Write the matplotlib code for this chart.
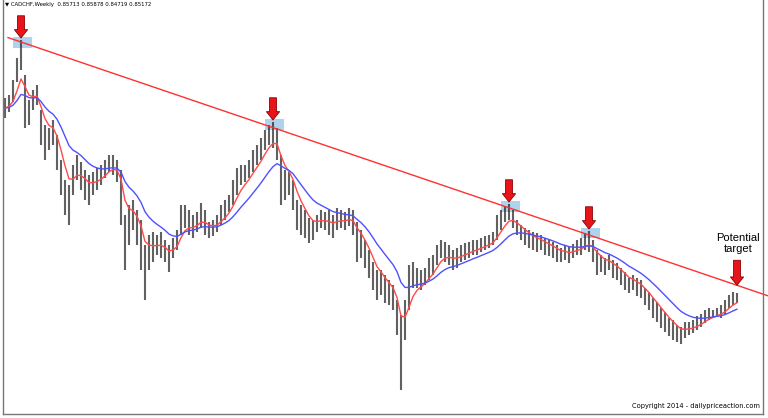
import numpy as np
import pandas as pd
import matplotlib
matplotlib.use('Agg')
import matplotlib.pyplot as plt
from matplotlib.patches import Rectangle

# weekly CADCHF bars (every 2nd week)
highs = [1.051, 1.054, 1.069, 1.091, 1.109, 1.074, 1.049, 1.059, 1.064, 1.039,
         1.024, 1.021, 1.029, 1.014, 0.989, 0.969, 0.964, 0.984, 0.994, 0.987,
         0.979, 0.974, 0.977, 0.981, 0.984, 0.989, 0.994, 0.994, 0.989, 0.979,
         0.934, 0.944, 0.949, 0.939, 0.929, 0.904, 0.914, 0.917, 0.914, 0.917,
         0.909, 0.904, 0.911, 0.919, 0.944, 0.944, 0.939, 0.934, 0.937, 0.946,
         0.939, 0.927, 0.929, 0.934, 0.944, 0.949, 0.954, 0.969, 0.981, 0.984,
         0.984, 0.989, 0.999, 1.004, 1.011, 1.019, 1.024, 1.027, 1.021, 0.994,
         0.979, 0.977, 0.969, 0.949, 0.944, 0.939, 0.931, 0.929, 0.934, 0.939,
         0.937, 0.939, 0.934, 0.941, 0.939, 0.937, 0.941, 0.939, 0.927, 0.919,
         0.909, 0.899, 0.887, 0.879, 0.879, 0.874, 0.869, 0.864, 0.849, 0.834,
         0.849, 0.884, 0.887, 0.881, 0.879, 0.881, 0.891, 0.894, 0.904, 0.909,
         0.907, 0.904, 0.899, 0.901, 0.904, 0.906, 0.907, 0.909, 0.909, 0.911,
         0.913, 0.914, 0.917, 0.934, 0.939, 0.943, 0.945, 0.939, 0.929, 0.924,
         0.921, 0.919, 0.917, 0.916, 0.914, 0.911, 0.909, 0.907, 0.904, 0.901,
         0.904, 0.902, 0.905, 0.909, 0.911, 0.916, 0.918, 0.909, 0.899, 0.894,
         0.891, 0.894, 0.889, 0.886, 0.881, 0.877, 0.871, 0.874, 0.871, 0.869,
         0.861, 0.857, 0.851, 0.847, 0.841, 0.837, 0.831, 0.829, 0.824, 0.822,
         0.827, 0.827, 0.829, 0.833, 0.835, 0.839, 0.841, 0.839, 0.841, 0.844,
         0.849, 0.854, 0.857, 0.856]
lows = [1.031, 1.037, 1.047, 1.067, 1.079, 1.021, 1.024, 1.039, 1.044, 1.004,
        0.989, 0.999, 1.004, 0.979, 0.954, 0.934, 0.924, 0.954, 0.969, 0.959,
        0.949, 0.944, 0.954, 0.959, 0.964, 0.971, 0.977, 0.974, 0.967, 0.924,
        0.879, 0.904, 0.919, 0.904, 0.879, 0.849, 0.879, 0.887, 0.894, 0.891,
        0.887, 0.877, 0.891, 0.899, 0.914, 0.921, 0.914, 0.911, 0.917, 0.921,
        0.914, 0.911, 0.913, 0.917, 0.924, 0.929, 0.937, 0.944, 0.954, 0.964,
        0.967, 0.971, 0.977, 0.984, 0.989, 0.999, 1.004, 1.001, 0.989, 0.944,
        0.949, 0.954, 0.939, 0.919, 0.914, 0.911, 0.906, 0.909, 0.917, 0.921,
        0.919, 0.914, 0.911, 0.919, 0.921, 0.919, 0.923, 0.914, 0.887, 0.891,
        0.881, 0.871, 0.859, 0.849, 0.854, 0.846, 0.844, 0.839, 0.814, 0.759,
        0.809, 0.839, 0.861, 0.861, 0.859, 0.864, 0.869, 0.874, 0.884, 0.891,
        0.887, 0.884, 0.879, 0.881, 0.887, 0.889, 0.891, 0.894, 0.894, 0.897,
        0.899, 0.901, 0.904, 0.909, 0.919, 0.927, 0.929, 0.921, 0.914, 0.909,
        0.904, 0.901, 0.899, 0.897, 0.899, 0.894, 0.893, 0.891, 0.887, 0.887,
        0.889, 0.886, 0.891, 0.894, 0.894, 0.899, 0.897, 0.887, 0.874, 0.877,
        0.874, 0.879, 0.871, 0.869, 0.864, 0.859, 0.856, 0.859, 0.853, 0.851,
        0.844, 0.839, 0.831, 0.827, 0.821, 0.817, 0.813, 0.809, 0.807, 0.805,
        0.811, 0.814, 0.816, 0.819, 0.822, 0.826, 0.829, 0.831, 0.833, 0.831,
        0.835, 0.841, 0.844, 0.846]

# swing highs marked on the chart, and the trendline through them
touch_bars = [4, 67, 126, 146]
target_bar = 183
trend_pts = [(4, 1.107), (146, 0.914)]

header = "\u25bc CADCHF,Weekly  0.85713 0.85878 0.84719 0.85172"

highs = np.array(highs)
lows = np.array(lows)
x = np.arange(len(highs))
med = pd.Series((highs + lows) / 2)
ma_fast = med.ewm(span=5, adjust=False).mean()
ma_slow = med.ewm(span=14, adjust=False).mean()

fig = plt.figure(figsize=(7.68, 4.18), dpi=100)
ax = fig.add_axes([3 / 768, 4 / 418, 760 / 768, 414 / 418])
ax.set_xlim(-0.5, 189.5)
ax.set_ylim(0.735, 1.149)

ax.vlines(x, lows, highs, color='#1e1e1e', lw=1.5, alpha=0.7)
ax.plot(x, ma_fast, color='#ff4a4a', lw=1)
ax.plot(x, ma_slow, color='#5050ff', lw=1)

# trendline
(x0, y0), (x1, y1) = trend_pts
slope = (y1 - y0) / (x1 - x0)
tx = np.array([0.75, 191.0])
ax.plot(tx, y0 + slope * (tx - x0), color='#ff3030', lw=1, clip_on=False)

arrow = dict(arrowstyle='simple,head_width=0.95,head_length=0.6,tail_width=0.5',
             fc='#e8141c', ec='#8a0000', lw=0.6, shrinkA=0, shrinkB=0)
for b in touch_bars:
    ax.add_patch(Rectangle((b - 2.1, highs[b] - 0.0075), 4.8, 0.0105,
                           fc='#94c4e8', ec='none', alpha=0.75))
    ax.annotate('', xy=(b, highs[b] + 0.002), xytext=(0, 16),
                textcoords='offset points', arrowprops=arrow)

ty = y0 + slope * (target_bar - x0)
ax.annotate('', xy=(target_bar, ty), xytext=(0, 18),
            textcoords='offset points', arrowprops=arrow)
ax.text(target_bar + 0.3, ty + 0.042, 'Potential\ntarget', ha='center',
        va='center', fontsize=8, family='Liberation Sans', linespacing=1.1)

ax.text(0.003, 0.994, header, transform=ax.transAxes, fontsize=3.9,
        va='top', ha='left')
ax.text(0.996, 0.012, 'Copyright 2014 - dailypriceaction.com',
        transform=ax.transAxes, fontsize=4.8, va='bottom', ha='right')

ax.set_xticks([])
ax.set_yticks([])
ax.spines['top'].set_visible(False)
for s in ['left', 'right', 'bottom']:
    ax.spines[s].set_color('#777777')
    ax.spines[s].set_linewidth(1)

fig.savefig('out.png', dpi=100)
